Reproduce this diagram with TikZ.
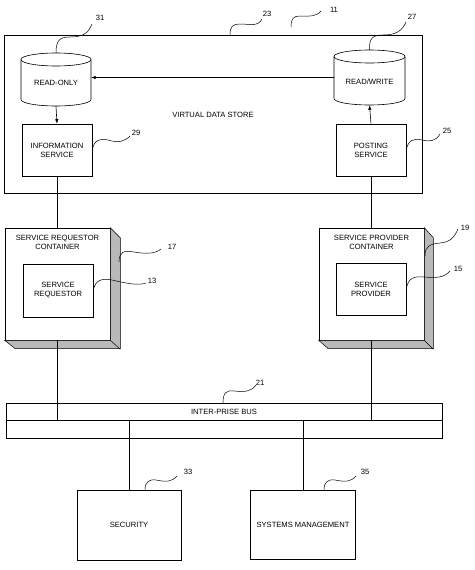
\documentclass[tikz,border=0pt]{standalone}
\usepackage{fontspec}
\setmainfont{Liberation Sans}
\usetikzlibrary{arrows.meta,calc}
\begin{document}
\begin{tikzpicture}[x=1pt,y=-1pt,
  every node/.style={font=\fontsize{7.6}{9}\selectfont, inner sep=0pt, align=center},
  box/.style={draw, line width=0.6pt, fill=white},
  ln/.style={line width=0.6pt},
  arr/.style={ln, -{Latex[length=4.5pt,width=3.5pt]}},
  lead/.style={line width=0.5pt},
  extr/.style={draw, fill=gray!55, line width=0.5pt}]
\useasboundingbox (0,0) rectangle (474,570);

% virtual data store
\node[box, minimum width=418pt, minimum height=158pt] (vds) at (213,114) {};
\node (vdslabel) at (213,115) {VIRTUAL DATA STORE};

% cylinders
\node[minimum width=70pt, minimum height=53pt] (ro) at (56,79.5) {};
\draw[ln, fill=white] (21,59.5) -- (21,99.5) arc (180:0:35 and 6.5) -- (91,59.5);
\draw[ln] (56,59.5) ellipse (35 and 6.5);
\node at (56,83) {READ-ONLY};

\node[minimum width=71pt, minimum height=55pt] (rw) at (369.5,77.5) {};
\draw[ln] (334,56.5) -- (334,98.5) arc (180:0:35.5 and 6.5) -- (405,56.5);
\draw[ln] (369.5,56.5) ellipse (35.5 and 6.5);
\node at (369.5,82) {READ/WRITE};

% services
\node[box, minimum width=70pt, minimum height=52pt] (info) at (57,150) {INFORMATION\\SERVICE};
\node[box, minimum width=70pt, minimum height=52pt] (post) at (371,150) {POSTING\\SERVICE};

\draw[arr] (rw.west) -- (ro.east |- rw.west);
\draw[arr] (ro.south) -- (info.north);
\draw[arr] (post.north) -- (rw.south);

% containers
\node[box, minimum width=105pt, minimum height=112pt] (reqc) at (57.5,284) {};
\draw[extr] (reqc.north east) -- ++(10,10) -- ++(0,111) -- ++(-105,0) -- (reqc.south west) -- (reqc.south east) -- cycle;
\draw[lead] (reqc.south east) -- ++(10,9);
\node (reqct) at (57.5,242.5) {SERVICE REQUESTOR\\CONTAINER};
\node[box, minimum width=70pt, minimum height=53pt] (req) at (58,290.5) {SERVICE\\REQUESTOR};

\node[box, minimum width=105pt, minimum height=112pt] (provc) at (371.5,284) {};
\draw[extr] (provc.north east) -- ++(9,10) -- ++(0,111) -- ++(-105,0) -- (provc.south west) -- (provc.south east) -- cycle;
\draw[lead] (provc.south east) -- ++(9,9);
\node (provct) at (371.5,242.5) {SERVICE PROVIDER\\CONTAINER};
\node[box, minimum width=70pt, minimum height=52pt] (prov) at (371,289) {SERVICE\\PROVIDER};

\draw[ln] (info.south) -- (info.south |- reqc.north);
\draw[ln] (post.south) -- (post.south |- provc.north);

% bus
\node[box, minimum width=436pt, minimum height=17pt] (bustop) at (224,411.5) {INTER-PRISE BUS};
\node[box, minimum width=436pt, minimum height=18pt] (busbot) at (224,429) {};

\draw[ln] (reqc.south) -- (reqc.south |- bustop.south);
\draw[ln] (provc.south) -- (provc.south |- bustop.south);

% bottom boxes
\node[box, minimum width=104pt, minimum height=70pt] (sec) at (129,525) {SECURITY};
\node[box, minimum width=105pt, minimum height=69pt] (sys) at (303,524.5) {SYSTEMS MANAGEMENT};
\draw[ln] (sec.north |- busbot.north) -- (sec.north);
\draw[ln] (sys.north |- busbot.north) -- (sys.north);

% reference numerals and leaders
\coordinate (e31) at (92,24);  \node (n31) at (100,18) {31};
\draw[lead] (ro.north) .. controls (56,40) and (60,37) .. (70,37) .. controls (82,37) and (88,34) .. (e31);

\coordinate (e27) at (406,22); \node (n27) at (412,17) {27};
\draw[lead] (rw.north) .. controls (369,38) and (373,35) .. (383,35) .. controls (396,35) and (402,31) .. (e27);

\coordinate (s23) at (230,35); \coordinate (e23) at (262,19); \node (n23) at (267,14) {23};
\draw[lead] (s23) .. controls (230,26) and (233,24) .. (240,24) .. controls (250,24) and (258,27) .. (e23);

\coordinate (s11) at (291,27); \coordinate (e11) at (321,11); \node (n11) at (334,10) {11};
\draw[lead] (s11) .. controls (291,18) and (294,16) .. (300,16) .. controls (310,16) and (316,17) .. (e11);

\coordinate (e29) at (130,136); \node (n29) at (136,133) {29};
\draw[lead] (info.east) .. controls (94,140) and (100,138) .. (108,140) .. controls (118,143) and (124,142) .. (e29);

\coordinate (e25) at (440,134); \node (n25) at (447,131) {25};
\draw[lead] (post.east) .. controls (408,140) and (414,138) .. (422,140) .. controls (430,142) and (436,141) .. (e25);

\coordinate (s17) at (119,262); \coordinate (e17) at (161,249); \node (n17) at (172,247) {17};
\draw[lead] (s17) .. controls (119,252) and (124,250) .. (134,252) .. controls (146,254) and (155,254) .. (e17);

\coordinate (e13) at (146,283); \node (n13) at (152,281) {13};
\draw[lead] (req.east) .. controls (95,280) and (102,278) .. (112,280) .. controls (125,283) and (138,286) .. (e13);

\coordinate (s19) at (425,256); \coordinate (e19) at (458,229); \node (n19) at (465,228) {19};
\draw[lead] (s19) .. controls (425,246) and (430,244) .. (440,243) .. controls (450,242) and (454,238) .. (e19);

\coordinate (e15) at (450,271); \node (n15) at (458,269) {15};
\draw[lead] (prov.east) .. controls (408,278) and (414,276) .. (424,277) .. controls (436,278) and (444,278) .. (e15);

\coordinate (s21) at (223,403); \coordinate (e21) at (256,385); \node (n21) at (260,383) {21};
\draw[lead] (s21) .. controls (223,393) and (226,390) .. (234,391) .. controls (244,392) and (251,392) .. (e21);

\coordinate (s33) at (145,490); \coordinate (e33) at (177,476); \node (n33) at (188,472) {33};
\draw[lead] (s33) .. controls (145,482) and (149,479) .. (156,480) .. controls (166,482) and (172,482) .. (e33);

\coordinate (s35) at (324,490); \coordinate (e35) at (356,476); \node (n35) at (365,472) {35};
\draw[lead] (s35) .. controls (324,482) and (328,479) .. (335,480) .. controls (345,482) and (351,482) .. (e35);
\end{tikzpicture}
\end{document}
